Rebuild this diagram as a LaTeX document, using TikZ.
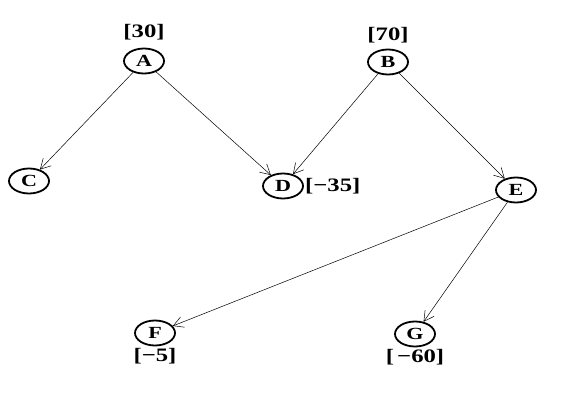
\documentclass[tikz,border=0pt]{standalone}
\usepackage{fontspec}
\setmainfont{Liberation Serif}
\newfontfamily\valfont[FakeStretch=1.3]{Liberation Serif}
\usetikzlibrary{shapes.geometric, arrows.meta, positioning}

\begin{document}
\begin{tikzpicture}[
  x=1pt, y=-1pt,
  vert/.style={ellipse, draw, line width=1.8pt, minimum width=40pt, minimum height=25pt,
               inner sep=0pt, font=\valfont\bfseries\fontsize{17}{19}\selectfont},
  val/.style={inner sep=1pt, font=\valfont\bfseries\fontsize{19}{21}\selectfont},
  arr/.style={-{Straight Barb[length=10pt, width=11pt]}, line width=0.5pt}
]
  \useasboundingbox (0,0) rectangle (567,404);
  % vertices
  \node[vert] (A) at (144,61) {A};
  \node[vert] (B) at (388,62) {B};
  \node[vert] (C) at (29,181) {C};
  \node[vert] (D) at (283,186) {D};
  \node[vert] (E) at (516,190) {E};
  \node[vert] (F) at (155,333) {F};
  \node[vert] (G) at (415,334) {G};
  % values
  \node[val, above=6pt of A] (vA) {[30]};
  \node[val, above=4pt of B] (vB) {[70]};
  \node[val, right=0pt of D] (vD) {[−35]};
  \node[val, below=1pt of F] (vF) {[−5]};
  \node[val, below=1pt of G] (vG) {[\,−60]};
  % edges
  \draw[arr] (A) -- (C);
  \draw[arr] (A) -- (D);
  \draw[arr] (B) -- (D);
  \draw[arr] (B) -- (E);
  \draw[arr] (E) -- (F);
  \draw[arr] (E) -- (G);
\end{tikzpicture}
\end{document}
